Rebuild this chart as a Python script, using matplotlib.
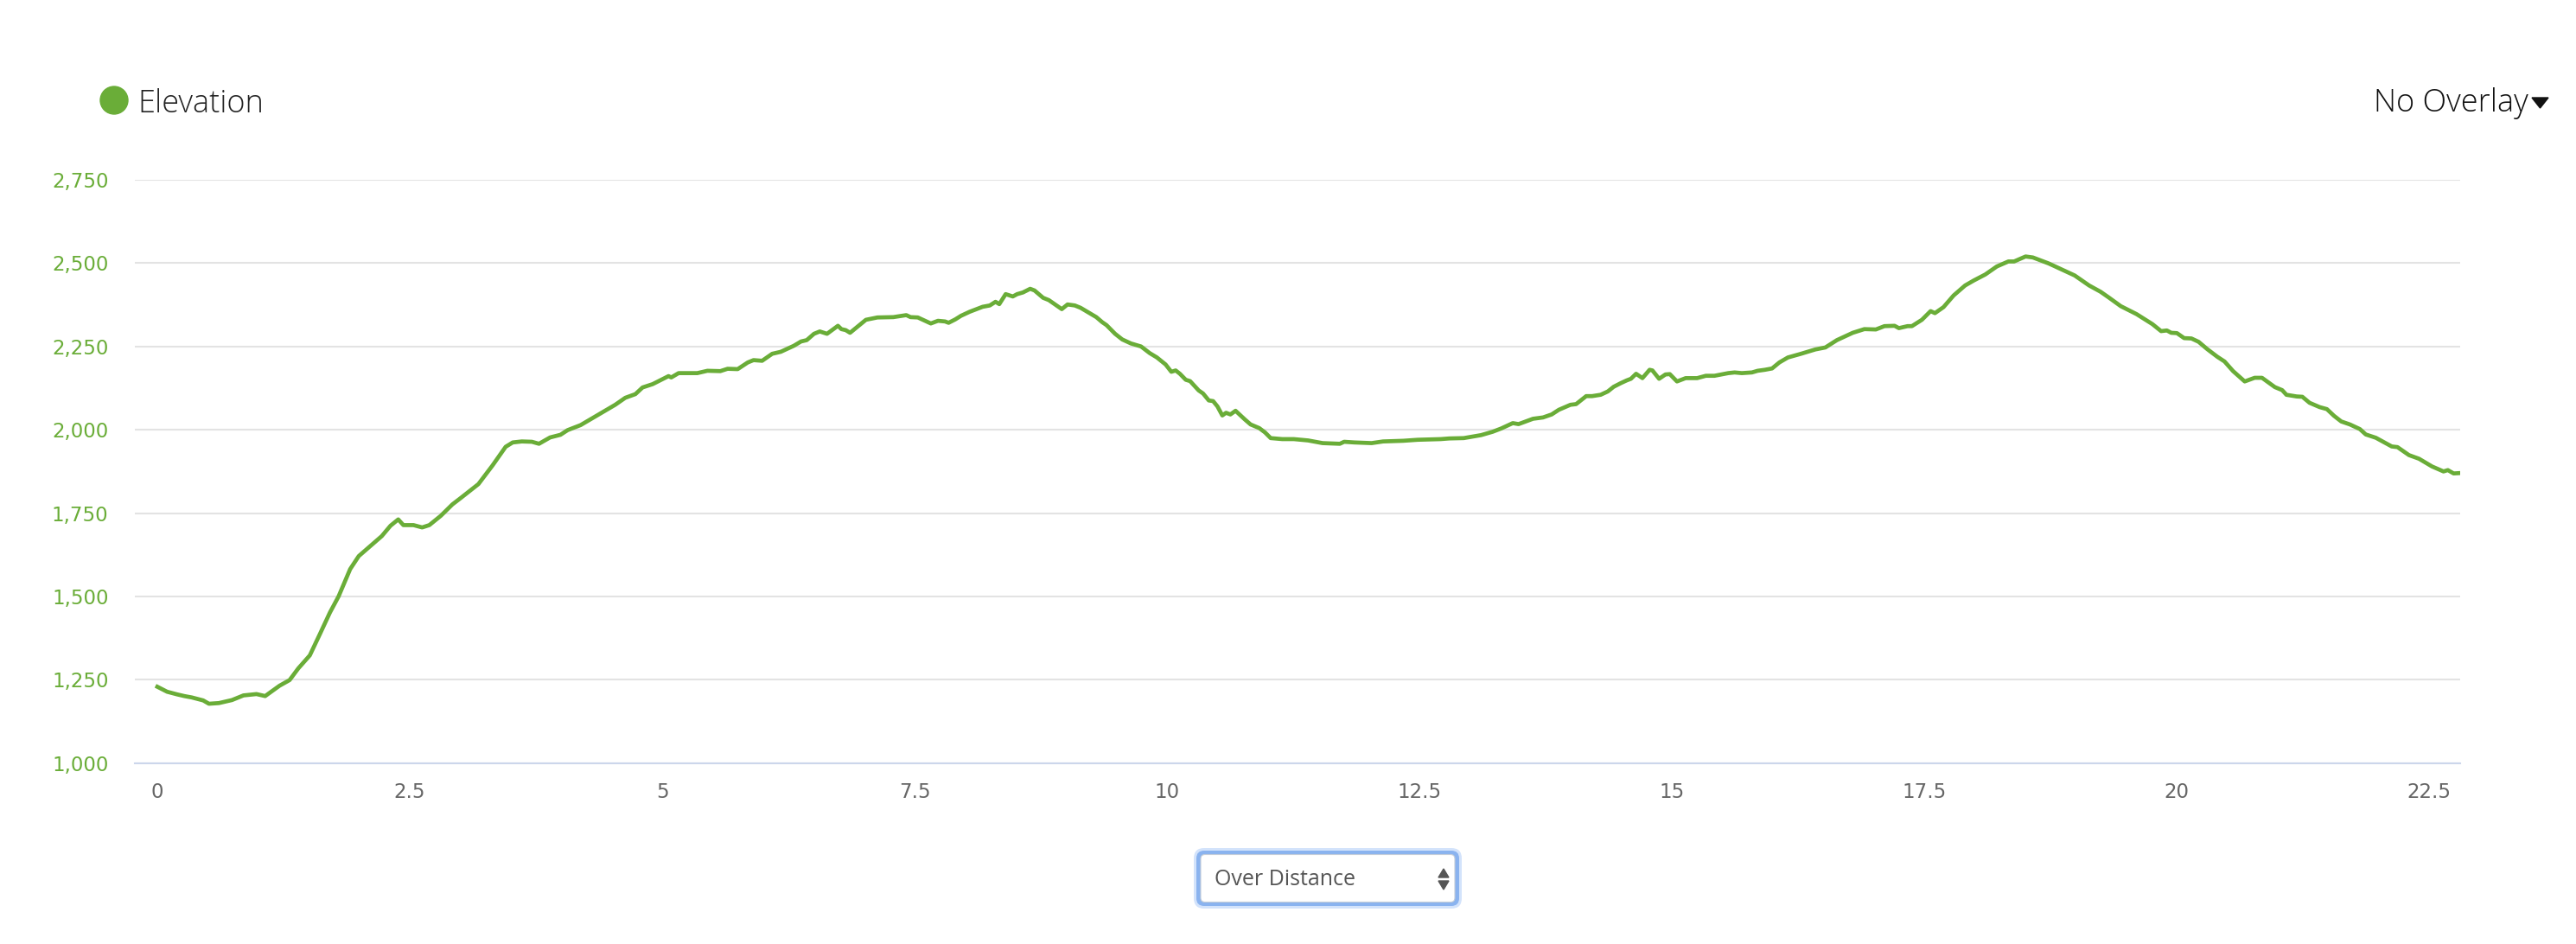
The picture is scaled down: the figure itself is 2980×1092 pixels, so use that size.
import matplotlib
matplotlib.use("Agg")
import matplotlib.pyplot as plt
from matplotlib.patches import Circle, FancyBboxPatch, Polygon
from matplotlib.ticker import FuncFormatter, MultipleLocator

# distance along the route (km) and elevation (m)
dist_km = [
    0.0, 0.097, 0.197, 0.268, 0.34, 0.454, 0.511, 0.61, 0.739, 0.853,
    0.982, 1.068, 1.21, 1.31, 1.396, 1.51, 1.61, 1.71, 1.795, 1.91,
    1.995, 2.109, 2.223, 2.309, 2.386, 2.437, 2.537, 2.623, 2.694, 2.808,
    2.922, 3.008, 3.18, 3.32, 3.45, 3.52, 3.61, 3.71, 3.78, 3.89,
    3.993, 4.064, 4.192, 4.349, 4.535, 4.635, 4.735, 4.806, 4.906, 5.063,
    5.09, 5.163, 5.348, 5.448, 5.576, 5.648, 5.748, 5.848, 5.905, 5.99,
    6.09, 6.175, 6.304, 6.376, 6.432, 6.504, 6.561, 6.633, 6.741, 6.775,
    6.818, 6.861, 7.018, 7.132, 7.289, 7.418, 7.46, 7.532, 7.661, 7.732,
    7.802, 7.837, 7.902, 7.96, 8.045, 8.174, 8.245, 8.302, 8.339, 8.402,
    8.473, 8.516, 8.573, 8.645, 8.688, 8.773, 8.83, 8.958, 9.015, 9.087,
    9.144, 9.216, 9.3, 9.358, 9.401, 9.486, 9.557, 9.643, 9.743, 9.829,
    9.9, 9.986, 10.043, 10.086, 10.128, 10.186, 10.229, 10.314, 10.357, 10.414,
    10.457, 10.5, 10.548, 10.585, 10.628, 10.679, 10.771, 10.828, 10.914, 10.971,
    11.027, 11.142, 11.256, 11.398, 11.541, 11.712, 11.755, 11.855, 12.027, 12.14,
    12.34, 12.483, 12.711, 12.797, 12.939, 13.111, 13.225, 13.311, 13.425, 13.482,
    13.625, 13.724, 13.81, 13.881, 13.996, 14.052, 14.152, 14.21, 14.295, 14.366,
    14.424, 14.495, 14.552, 14.595, 14.646, 14.709, 14.78, 14.808, 14.874, 14.937,
    14.98, 15.051, 15.137, 15.251, 15.337, 15.422, 15.559, 15.622, 15.693, 15.793,
    15.85, 15.922, 15.993, 16.065, 16.15, 16.279, 16.421, 16.521, 16.635, 16.792,
    16.907, 17.021, 17.106, 17.206, 17.249, 17.335, 17.378, 17.477, 17.563, 17.606,
    17.691, 17.791, 17.905, 17.991, 18.105, 18.219, 18.333, 18.39, 18.504, 18.576,
    18.733, 18.847, 18.99, 19.133, 19.247, 19.332, 19.446, 19.603, 19.76, 19.846,
    19.903, 19.946, 20.003, 20.074, 20.146, 20.217, 20.303, 20.403, 20.474, 20.559,
    20.674, 20.773, 20.845, 20.973, 21.045, 21.087, 21.188, 21.245, 21.316, 21.416,
    21.488, 21.558, 21.63, 21.716, 21.815, 21.873, 21.973, 22.13, 22.187, 22.301,
    22.401, 22.457, 22.529, 22.643, 22.686, 22.743, 22.8,
]
elev_m = [
    1229, 1214, 1206, 1201, 1197, 1188, 1178, 1180, 1189, 1203,
    1207, 1201, 1232, 1249, 1284, 1323, 1387, 1452, 1500, 1582,
    1621, 1651, 1681, 1712, 1731, 1714, 1714, 1707, 1714, 1742,
    1776, 1796, 1837, 1893, 1949, 1962, 1965, 1964, 1958, 1977,
    1985, 1999, 2014, 2042, 2075, 2096, 2107, 2127, 2137, 2161,
    2157, 2170, 2170, 2177, 2176, 2183, 2182, 2202, 2209, 2207,
    2228, 2234, 2252, 2265, 2269, 2288, 2295, 2288, 2312, 2302,
    2299, 2291, 2330, 2337, 2338, 2344, 2338, 2337, 2319, 2327,
    2325, 2321, 2331, 2342, 2354, 2369, 2373, 2384, 2377, 2407,
    2400, 2407, 2412, 2423, 2418, 2396, 2389, 2362, 2376, 2373,
    2366, 2353, 2338, 2323, 2314, 2288, 2271, 2259, 2250, 2230,
    2217, 2196, 2174, 2178, 2168, 2150, 2146, 2118, 2109, 2088,
    2086, 2070, 2043, 2051, 2046, 2057, 2031, 2016, 2005, 1992,
    1975, 1972, 1972, 1968, 1960, 1958, 1964, 1962, 1960, 1965,
    1967, 1970, 1972, 1974, 1975, 1984, 1994, 2004, 2020, 2017,
    2033, 2037, 2046, 2060, 2075, 2077, 2101, 2101, 2105, 2115,
    2129, 2140, 2148, 2153, 2168, 2155, 2180, 2178, 2153, 2166,
    2167, 2145, 2155, 2155, 2162, 2162, 2170, 2172, 2170, 2172,
    2177, 2180, 2184, 2202, 2217, 2228, 2241, 2247, 2269, 2291,
    2302, 2301, 2311, 2312, 2305, 2311, 2311, 2330, 2356, 2350,
    2368, 2403, 2433, 2448, 2466, 2490, 2505, 2505, 2520, 2517,
    2499, 2483, 2463, 2433, 2414, 2396, 2371, 2347, 2317, 2296,
    2298, 2291, 2290, 2275, 2274, 2264, 2242, 2219, 2205, 2176,
    2145, 2156, 2156, 2128, 2119, 2105, 2100, 2099, 2081, 2068,
    2062, 2042, 2025, 2016, 2002, 1986, 1976, 1950, 1948, 1924,
    1913, 1903, 1890, 1875, 1879, 1869, 1870,
]

series_name = "Elevation"
overlay_label = "No Overlay"
mode_label = "Over Distance"

GREEN = "#6aad38"
W, H = 2980, 1092

fig = plt.figure(figsize=(W / 100, H / 100), dpi=100)
fig.patch.set_facecolor("white")

# main plot area, placed in pixels
left, right, top, bottom = 156, 2846, 208, 882.7
ax = fig.add_axes([left / W, 1 - bottom / H, (right - left) / W, (bottom - top) / H])
ax.plot(dist_km, elev_m, color=GREEN, lw=3.4, solid_joinstyle="round", zorder=3)

ax.set_xlim(-0.2226, 22.808)
ax.set_ylim(1000, 2750)
ax.yaxis.set_major_locator(MultipleLocator(250))
ax.xaxis.set_major_locator(MultipleLocator(2.5))
ax.yaxis.set_major_formatter(FuncFormatter(lambda v, p: f"{int(v):,}"))
ax.xaxis.set_major_formatter(FuncFormatter(lambda v, p: f"{v:g}"))

ax.grid(axis="y", color="#e3e3e3", lw=1.5)
ax.set_axisbelow(True)
for s in ["top", "right", "left"]:
    ax.spines[s].set_visible(False)
ax.spines["bottom"].set_color("#ccd6eb")
ax.spines["bottom"].set_linewidth(1.5)
ax.spines["bottom"].set_zorder(2)
ax.tick_params(axis="y", length=0, pad=22, labelsize=16.5, labelcolor=GREEN)
ax.tick_params(axis="x", length=0, pad=16, labelsize=16.5, labelcolor="#666666")

# header and dropdown, drawn in pixel coordinates
ui = fig.add_axes([0, 0, 1, 1], zorder=5)
ui.set_xlim(0, W)
ui.set_ylim(H, 0)
ui.axis("off")
ui.patch.set_alpha(0)

ui.add_patch(Circle((132, 116), 16, color=GREEN))
ui.text(159, 120, series_name, ha="left", va="center", fontsize=26,
        family="Open Sans", fontweight="light", color="#222222")

ui.text(2925, 120, overlay_label, ha="right", va="center", fontsize=26,
        family="Open Sans", fontweight="light", color="#111111")
ui.add_patch(Polygon([(2929, 113), (2948, 113), (2938.5, 125)], closed=True, color="#111111"))

ui.add_patch(FancyBboxPatch((1381, 981), 310, 70, boxstyle="round,pad=0,rounding_size=12",
                            facecolor="#d3e3fb", edgecolor="none"))
ui.add_patch(FancyBboxPatch((1384, 984), 304, 64, boxstyle="round,pad=0,rounding_size=9",
                            facecolor="#8ab3ef", edgecolor="none"))
ui.add_patch(FancyBboxPatch((1389, 988.5), 294, 55, boxstyle="round,pad=0,rounding_size=5",
                            facecolor="white", edgecolor="#c4cdd9", lw=0.8))
ui.text(1405, 1017, mode_label, ha="left", va="center", fontsize=18,
        family="Open Sans", color="#555555")
ui.add_patch(Polygon([(1664, 1015), (1676, 1015), (1670, 1005)], closed=True, color="#555555"))
ui.add_patch(Polygon([(1664, 1019), (1676, 1019), (1670, 1029)], closed=True, color="#555555"))

fig.savefig("out.png", dpi=100, facecolor="white")
